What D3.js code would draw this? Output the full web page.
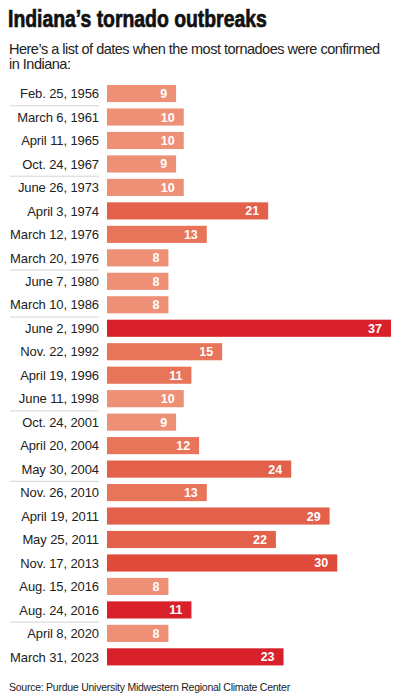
<!DOCTYPE html>
<html>
<head>
<meta charset="utf-8">
<script src="https://cdn.jsdelivr.net/npm/d3@7/dist/d3.min.js"></script>
<style>
  html, body { margin: 0; padding: 0; background: #fff; }
  svg { display: block; }
</style>
</head>
<body>
<svg id="chart" width="400" height="694"></svg>
<script>
const dates = [
  "Feb. 25, 1956", "March 6, 1961", "April 11, 1965", "Oct. 24, 1967", "June 26, 1973",
  "April 3, 1974", "March 12, 1976", "March 20, 1976", "June 7, 1980", "March 10, 1986",
  "June 2, 1990", "Nov. 22, 1992", "April 19, 1996", "June 11, 1998", "Oct. 24, 2001",
  "April 20, 2004", "May 30, 2004", "Nov. 26, 2010", "April 19, 2011", "May 25, 2011",
  "Nov. 17, 2013", "Aug. 15, 2016", "Aug. 24, 2016", "April 8, 2020", "March 31, 2023"
];
const tornadoes = [9, 10, 10, 9, 10, 21, 13, 8, 8, 8, 37, 15, 11, 10, 9, 12, 24, 13, 29, 22, 30, 8, 11, 8, 23];
// colour group of each bar as shown in the graphic
const shadeGroup = ["light", "light", "light", "light", "light", "dark", "mid", "light", "light", "light",
  "red", "mid", "mid", "light", "light", "mid", "dark", "mid", "dark", "dark",
  "darker", "light", "red", "light", "red"];
const shadeNames = ["light", "mid", "dark", "darker", "red"];
const shadeColors = ["#EE9075", "#E8745A", "#E3604B", "#DF4A3B", "#D8212A"];

const title = "Indiana\u2019s tornado outbreaks";
const subtitleLines = ["Here\u2019s a list of dates when the most tornadoes were confirmed", "in Indiana:"];
const source = "Source: Purdue University Midwestern Regional Climate Center";

const data = dates.map((d, i) => ({ date: d, value: tornadoes[i], shade: shadeGroup[i], year: +d.slice(-4) }));

const svg = d3.select("#chart");

svg.append("text")
  .attr("transform", "translate(8,27) scale(0.825,1)")
  .attr("font-family", "'Liberation Sans', Arial, sans-serif")
  .attr("font-weight", 700)
  .attr("font-size", 23.5)
  .attr("fill", "#111")
  .attr("stroke", "#111").attr("stroke-width", 0.7)
  .text(title);

svg.append("g").selectAll("text").data(subtitleLines).join("text")
  .attr("x", 9).attr("y", (d, i) => 54 + i * 15)
  .attr("font-family", "'Liberation Sans', Arial, sans-serif")
  .attr("font-size", 14.5)
  .attr("letter-spacing", -0.5)
  .attr("fill", "#222")
  .text(d => d);

const x = d3.scaleLinear().domain([0, 37]).range([107, 391]);
const y = d3.scaleBand().domain(dates).range([81.8, 668.6]).paddingInner(0.27).paddingOuter(0.135);
const color = d3.scaleOrdinal().domain(shadeNames).range(shadeColors);

// decade separators in the label column
const seps = data.slice(0, -1).map((d, i) => ({ d, next: data[i + 1] }))
  .filter(p => Math.floor(p.d.year / 10) !== Math.floor(p.next.year / 10));
svg.append("g").selectAll("line").data(seps).join("line")
  .attr("x1", 10).attr("x2", 99)
  .attr("y1", p => (y(p.d.date) + y.bandwidth() + y(p.next.date)) / 2 + 0.5)
  .attr("y2", p => (y(p.d.date) + y.bandwidth() + y(p.next.date)) / 2 + 0.5)
  .attr("stroke", "#d4d4d4").attr("stroke-width", 1);

const rows = svg.append("g").selectAll("g").data(data).join("g");

rows.append("text")
  .attr("x", 99)
  .attr("y", d => y(d.date) + y.bandwidth() / 2)
  .attr("dy", "0.36em")
  .attr("text-anchor", "end")
  .attr("font-family", "'Liberation Sans', Arial, sans-serif")
  .attr("font-size", 13)
  .attr("letter-spacing", -0.1)
  .attr("fill", "#222")
  .text(d => d.date);

rows.append("rect")
  .attr("x", x(0))
  .attr("y", d => y(d.date))
  .attr("width", d => x(d.value) - x(0))
  .attr("height", y.bandwidth())
  .attr("fill", d => color(d.shade));

rows.append("text")
  .attr("x", d => x(d.value) - 9)
  .attr("y", d => y(d.date) + y.bandwidth() / 2)
  .attr("dy", "0.36em")
  .attr("text-anchor", "end")
  .attr("font-family", "'Liberation Sans', Arial, sans-serif")
  .attr("font-weight", 700)
  .attr("font-size", 12.5)
  .attr("fill", "#fff")
  .text(d => d.value);

svg.append("text")
  .attr("x", 9).attr("y", 691)
  .attr("font-family", "'Liberation Sans', Arial, sans-serif")
  .attr("font-size", 10.5)
  .attr("letter-spacing", -0.25)
  .attr("fill", "#222")
  .text(source);
</script>
</body>
</html>
